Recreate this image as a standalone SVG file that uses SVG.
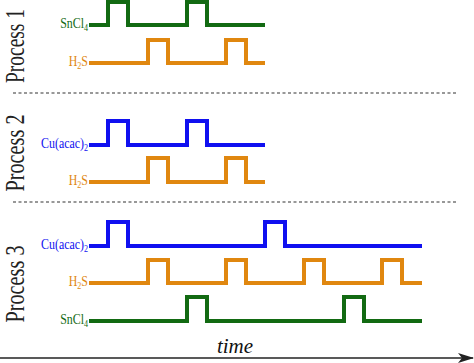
<svg xmlns="http://www.w3.org/2000/svg" width="474" height="363" viewBox="0 0 474 363">
<style>
.sig{fill:none;stroke-width:4;stroke-linejoin:miter;stroke-linecap:butt}
.g{stroke:#126a12}.o{stroke:#e0870f}.b{stroke:#1010f0}
.tg{fill:#126a12}.to{fill:#e0870f}.tb{fill:#1010f0}
.lab{font-family:"Liberation Serif",serif;font-size:14px;text-anchor:end}
.sub{font-size:9.5px}
.proc{font-family:"Liberation Serif",serif;font-size:27px;fill:#222;text-anchor:middle}
.dash{stroke:#333;stroke-width:1.2;stroke-dasharray:3 2.5}
</style>
<defs>
<marker id="ah" markerWidth="16" markerHeight="10" refX="15" refY="5" orient="auto" markerUnits="userSpaceOnUse">
<path d="M0,0 L16,5 L0,10 L4,5 Z" fill="#222"/>
</marker>
</defs>
<g id="process1">
<text class="proc" transform="translate(24,46) rotate(-90)" textLength="74" lengthAdjust="spacingAndGlyphs">Process 1</text>
<g id="p1-sncl4">
<text class="lab tg" transform="translate(88,28) scale(0.85,1)">SnCl<tspan class="sub" dy="3">4</tspan></text>
<path class="sig g" d="M89,25 H108 V2 H128 V25 H187 V2 H207 V25 H265"/>
</g>
<g id="p1-h2s">
<text class="lab to" transform="translate(88,66) scale(0.85,1)">H<tspan class="sub" dy="3">2</tspan><tspan dy="-3">S</tspan></text>
<path class="sig o" d="M89,63 H148 V40 H168 V63 H226 V40 H246 V63 H265"/>
</g>
</g>
<g id="dividers">
<line class="dash" x1="13" y1="93" x2="456" y2="93"/>
<line class="dash" x1="13" y1="202" x2="456" y2="202"/>
</g>
<g id="process2">
<text class="proc" transform="translate(24,153) rotate(-90)" textLength="77" lengthAdjust="spacingAndGlyphs">Process 2</text>
<g id="p2-cu">
<text class="lab tb" transform="translate(88,148) scale(0.85,1)">Cu(acac)<tspan class="sub" dy="3">2</tspan></text>
<path class="sig b" d="M89,145 H108 V121 H128 V145 H187 V121 H207 V145 H265"/>
</g>
<g id="p2-h2s">
<text class="lab to" transform="translate(88,185) scale(0.85,1)">H<tspan class="sub" dy="3">2</tspan><tspan dy="-3">S</tspan></text>
<path class="sig o" d="M89,182 H148 V158 H168 V182 H226 V158 H246 V182 H265"/>
</g>
</g>
<g id="process3">
<text class="proc" transform="translate(24,284) rotate(-90)" textLength="77" lengthAdjust="spacingAndGlyphs">Process 3</text>
<g id="p3-cu">
<text class="lab tb" transform="translate(88,249) scale(0.85,1)">Cu(acac)<tspan class="sub" dy="3">2</tspan></text>
<path class="sig b" d="M89,246 H108 V222 H128 V246 H265 V222 H285 V246 H422"/>
</g>
<g id="p3-h2s">
<text class="lab to" transform="translate(88,286) scale(0.85,1)">H<tspan class="sub" dy="3">2</tspan><tspan dy="-3">S</tspan></text>
<path class="sig o" d="M89,283 H148 V260 H168 V283 H226 V260 H246 V283 H304 V260 H324 V283 H382 V260 H402 V283 H422"/>
</g>
<g id="p3-sncl4">
<text class="lab tg" transform="translate(88,324) scale(0.85,1)">SnCl<tspan class="sub" dy="3">4</tspan></text>
<path class="sig g" d="M89,321 H187 V297 H207 V321 H344 V297 H364 V321 H422"/>
</g>
</g>
<g id="connectors">
<line x1="0" y1="358" x2="473" y2="358" stroke="#222" stroke-width="1.5" marker-end="url(#ah)"/>
<text x="235" y="353" font-family="Liberation Serif,serif" font-style="italic" font-size="21" fill="#111" text-anchor="middle">time</text>
</g>
</svg>
